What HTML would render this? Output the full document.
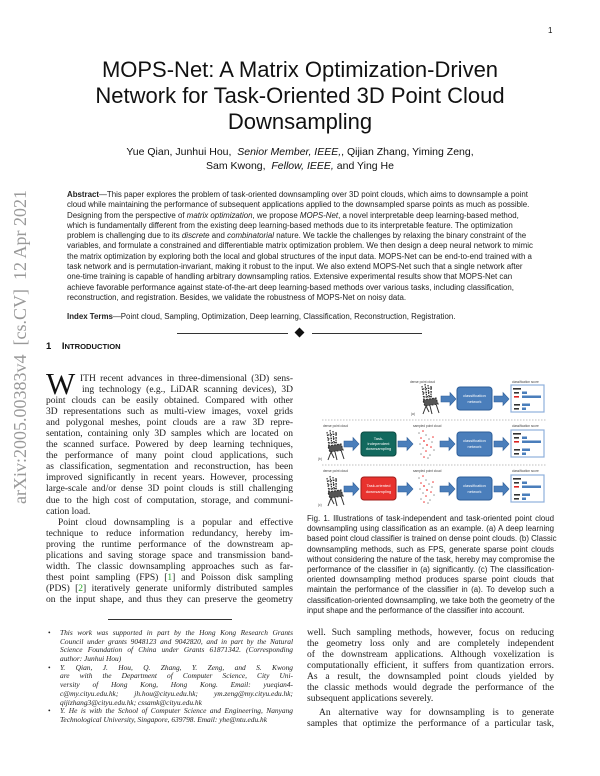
<!DOCTYPE html>
<html><head><meta charset="utf-8"><style>
*{margin:0;padding:0;box-sizing:border-box}
body{width:600px;height:776px;background:#fff;position:relative;overflow:hidden;color:#111}
.a{position:absolute;white-space:nowrap}
.title{left:0;width:600px;text-align:center;font:22px/26px "Liberation Sans",sans-serif;top:57px;color:#111}
.auth{left:0;width:600px;text-align:center;font:10.5px/14px "Liberation Sans",sans-serif;top:145px}
.abs{left:67px;top:190px;font:7.9px/10.3px "Liberation Sans",sans-serif;color:#222}
.col{font:9.5px/11.1px "Liberation Serif",serif;color:#1a1a1a}
.col div,.cap div{width:247px;text-align:justify;text-align-last:justify;white-space:nowrap;height:11.1px}
.col div.l{text-align-last:left}
.cap{font:7.9px/10.2px "Liberation Sans",sans-serif;color:#222}
.cap div{height:10.2px}
.fn{font:italic 7.4px/8.7px "Liberation Serif",serif;color:#222}
.fn div{white-space:nowrap;text-align:justify;text-align-last:justify;width:233px;height:8.7px}
.fn div.l{text-align-last:left}
.side{left:-128px;top:342px;width:300px;height:24px;line-height:24px;text-align:center;font:18px "Liberation Serif",serif;color:#999;transform:rotate(-90deg);transform-origin:150px 12px}
</style></head><body>
<div class="a" style="left:548px;top:26px;font:8px 'Liberation Sans',sans-serif">1</div>
<div class="a title">MOPS-Net: A Matrix Optimization-Driven<br>Network for Task-Oriented 3D Point Cloud<br>Downsampling</div>
<div class="a auth">Yue Qian, Junhui Hou, &nbsp;<i>Senior Member, IEEE,</i>, Qijian Zhang, Yiming Zeng,<br>Sam Kwong, &nbsp;<i>Fellow, IEEE,</i> and Ying He</div>
<div class="a abs"><b>Abstract</b>—This paper explores the problem of task-oriented downsampling over 3D point clouds, which aims to downsample a point<br>cloud while maintaining the performance of subsequent applications applied to the downsampled sparse points as much as possible.<br>Designing from the perspective of <i>matrix optimization</i>, we propose <i>MOPS-Net</i>, a novel interpretable deep learning-based method,<br>which is fundamentally different from the existing deep learning-based methods due to its interpretable feature. The optimization<br>problem is challenging due to its <i>discrete</i> and <i>combinatorial</i> nature. We tackle the challenges by relaxing the binary constraint of the<br>variables, and formulate a constrained and differentiable matrix optimization problem. We then design a deep neural network to mimic<br>the matrix optimization by exploring both the local and global structures of the input data. MOPS-Net can be end-to-end trained with a<br>task network and is permutation-invariant, making it robust to the input. We also extend MOPS-Net such that a single network after<br>one-time training is capable of handling arbitrary downsampling ratios. Extensive experimental results show that MOPS-Net can<br>achieve favorable performance against state-of-the-art deep learning-based methods over various tasks, including classification,<br>reconstruction, and registration. Besides, we validate the robustness of MOPS-Net on noisy data.</div>
<div class="a abs" style="top:312px"><b>Index Terms</b>—Point cloud, Sampling, Optimization, Deep learning, Classification, Reconstruction, Registration.</div>
<div class="a" style="left:177px;top:333px;width:111px;border-top:1px solid #333"></div>
<div class="a" style="left:312px;top:333px;width:110px;border-top:1px solid #333"></div>
<div class="a" style="left:296px;top:329px;width:7px;height:7px;background:#111;transform:rotate(45deg)"></div>
<div class="a" style="left:46px;top:341px;font:bold 9.5px 'Liberation Sans',sans-serif">1&nbsp;&nbsp;&nbsp;&nbsp;I<span style="font-size:7.6px">NTRODUCTION</span></div>
<div class="a side">arXiv:2005.00383v4&nbsp;&nbsp;[cs.CV]&nbsp;&nbsp;12 Apr 2021</div>
<div class="a" style="left:46px;top:369px;font:31px/30px 'Liberation Serif',serif">W</div>
<div class="a col" style="left:46px;top:373.5px">
<div style="padding-left:34px;width:247px">ITH recent advances in three-dimensional (3D) sens-</div>
<div style="padding-left:36px;width:247px">ing technology (e.g., LiDAR scanning devices), 3D</div>
<div>point clouds can be easily obtained. Compared with other</div>
<div>3D representations such as multi-view images, voxel grids</div>
<div>and polygonal meshes, point clouds are a raw 3D repre-</div>
<div>sentation, containing only 3D samples which are located on</div>
<div>the scanned surface. Powered by deep learning techniques,</div>
<div>the performance of many point cloud applications, such</div>
<div>as classification, segmentation and reconstruction, has been</div>
<div>improved significantly in recent years. However, processing</div>
<div>large-scale and/or dense 3D point clouds is still challenging</div>
<div>due to the high cost of computation, storage, and communi-</div>
<div class="l">cation load.</div>
<div style="padding-left:12px">Point cloud downsampling is a popular and effective</div>
<div>technique to reduce information redundancy, hereby im-</div>
<div>proving the runtime performance of the downstream ap-</div>
<div>plications and saving storage space and transmission band-</div>
<div>width. The classic downsampling approaches such as far-</div>
<div>thest point sampling (FPS) [<span style="color:#2a2">1</span>] and Poisson disk sampling</div>
<div>(PDS) [<span style="color:#2a2">2</span>] iteratively generate uniformly distributed samples</div>
<div>on the input shape, and thus they can preserve the geometry</div>
</div>
<div class="a" style="left:108px;top:619px;width:124px;border-top:1px solid #333"></div>
<div class="a fn" style="left:48px;top:629px">
<div class="l" style="position:absolute;left:0;top:0;font-style:normal">•</div>
<div class="l" style="position:absolute;left:0;top:34.8px;font-style:normal">•</div>
<div class="l" style="position:absolute;left:0;top:78.3px;font-style:normal">•</div>
</div>
<div class="a fn" style="left:60px;top:629px">
<div>This work was supported in part by the Hong Kong Research Grants</div>
<div>Council under grants 9048123 and 9042820, and in part by the Natural</div>
<div>Science Foundation of China under Grants 61871342. (Corresponding</div>
<div class="l">author: Junhui Hou)</div>
<div>Y. Qian, J. Hou, Q. Zhang, Y. Zeng, and S. Kwong</div>
<div>are with the Department of Computer Science, City Uni-</div>
<div>versity of Hong Kong, Hong Kong. Email: yueqian4-</div>
<div>c@my.cityu.edu.hk; jh.hou@cityu.edu.hk; ym.zeng@my.cityu.edu.hk;</div>
<div class="l">qijizhang3@cityu.edu.hk; cssamk@cityu.edu.hk</div>
<div>Y. He is with the School of Computer Science and Engineering, Nanyang</div>
<div class="l">Technological University, Singapore, 639798. Email: yhe@ntu.edu.hk</div>
</div>
<svg class="a" style="left:0;top:0" width="600" height="776" viewBox="0 0 600 776" font-family="Liberation Sans, sans-serif">
<defs>
<g id="arr"><polygon points="0,-3 9,-3 9,-6.5 15,0 9,6.5 9,3 0,3" fill="#4a7ebb" stroke="#2f5f9a" stroke-width=".6"/></g>
<g id="chair" fill="none" stroke="#333" stroke-width="1.2">
<path d="M2,2 L4,16 M5,0 L7,15 M8,1 L9,14 M11,2 L11,14 M3,5 L12,4 M3,9 L12,8 M4,13 L12,12" stroke-dasharray="1.5 1"/>
<path d="M3,16 L16,14 L18,20 L5,22 Z" fill="#555" stroke-dasharray="2 1"/>
<path d="M6,22 L3,30 M16,20 L19,29 M10,22 L12,30 M6,22 L9,28" stroke-width="1"/>
</g>
<g id="score">
<rect x="0" y="0" width="33" height="27" fill="#fff" stroke="#8fb0dc" stroke-width="1.2"/>
<rect x="2" y="3" width="8" height="1.6" fill="#333"/>
<rect x="3" y="7" width="5" height="1.6" fill="#333"/><rect x="11" y="6.5" width="5" height="2.5" fill="#4a7ebb"/>
<rect x="3" y="11" width="5" height="1.6" fill="#d22"/><rect x="11" y="10.5" width="19" height="2.5" fill="#4a7ebb"/>
<rect x="3" y="19" width="6" height="1.6" fill="#333"/><rect x="11" y="18.5" width="8" height="2.5" fill="#4a7ebb"/>
<rect x="3" y="23" width="5" height="1.6" fill="#333"/><rect x="11" y="22.5" width="4" height="2.5" fill="#4a7ebb"/>
</g>
<g id="sparse" fill="#999">
<circle cx="2" cy="3" r=".8"/><circle cx="6" cy="1" r=".8" fill="#e33"/><circle cx="9" cy="5" r=".8"/><circle cx="4" cy="8" r=".8" fill="#e33"/><circle cx="12" cy="9" r=".8"/><circle cx="7" cy="11" r=".9" fill="#e33"/><circle cx="15" cy="12" r=".8"/><circle cx="3" cy="14" r=".8"/><circle cx="10" cy="15" r=".9" fill="#e33"/><circle cx="14" cy="17" r=".8" fill="#e33"/><circle cx="6" cy="18" r=".8"/><circle cx="17" cy="20" r=".8"/><circle cx="9" cy="21" r=".8" fill="#e33"/><circle cx="4" cy="24" r=".8"/><circle cx="13" cy="25" r=".8"/><circle cx="16" cy="7" r=".8" fill="#e33"/><circle cx="11" cy="28" r=".8"/><circle cx="7" cy="27" r=".8" fill="#e33"/>
</g>
</defs>
<g font-size="3.2" fill="#444">
<text x="410" y="383">dense point cloud</text><text x="512" y="383">classification score</text>
<text x="323" y="427">dense point cloud</text><text x="413" y="427">sampled point cloud</text><text x="512" y="427">classification score</text>
<text x="323" y="472">dense point cloud</text><text x="413" y="472">sampled point cloud</text><text x="512" y="472">classification score</text>
<text x="411" y="415">(a)</text><text x="318" y="460">(b)</text><text x="318" y="506">(c)</text>
</g>
<use href="#chair" x="420" y="384"/>
<use href="#arr" x="441" y="399"/>
<rect x="457" y="387" width="35" height="23" rx="3" fill="#4a7ebb" stroke="#2f5f9a"/>
<text x="474.5" y="397" font-size="4" fill="#fff" text-anchor="middle">classification</text><text x="474.5" y="403" font-size="4" fill="#fff" text-anchor="middle">network</text>
<use href="#arr" x="494" y="399"/>
<use href="#score" x="511" y="385"/>
<line x1="322" y1="420" x2="546" y2="420" stroke="#aaa" stroke-width=".8" stroke-dasharray="1.5 1.5"/>
<use href="#chair" x="325" y="430"/>
<use href="#arr" x="344" y="444"/>
<rect x="361" y="432" width="35" height="24" rx="3" fill="#12695e" stroke="#0c4a42"/>
<text x="378.5" y="440" font-size="4" fill="#fff" text-anchor="middle">Task-</text><text x="378.5" y="445" font-size="4" fill="#fff" text-anchor="middle">independent</text><text x="378.5" y="450" font-size="4" fill="#fff" text-anchor="middle">downsampling</text>
<use href="#arr" x="398" y="444"/>
<use href="#sparse" x="417" y="430"/>
<use href="#arr" x="440" y="444"/>
<rect x="457" y="432" width="35" height="24" rx="3" fill="#4a7ebb" stroke="#2f5f9a"/>
<text x="474.5" y="442" font-size="4" fill="#fff" text-anchor="middle">classification</text><text x="474.5" y="448" font-size="4" fill="#fff" text-anchor="middle">network</text>
<use href="#arr" x="494" y="444"/>
<use href="#score" x="511" y="430"/>
<line x1="322" y1="465" x2="546" y2="465" stroke="#aaa" stroke-width=".8" stroke-dasharray="1.5 1.5"/>
<use href="#chair" x="325" y="476"/>
<use href="#arr" x="344" y="489"/>
<rect x="361" y="477" width="35" height="23" rx="3" fill="#e8322e" stroke="#a01c1a"/>
<text x="378.5" y="487" font-size="4" fill="#fff" text-anchor="middle">Task-oriented</text><text x="378.5" y="493" font-size="4" fill="#fff" text-anchor="middle">downsampling</text>
<use href="#arr" x="398" y="489"/>
<use href="#sparse" x="417" y="475"/>
<use href="#arr" x="440" y="489"/>
<rect x="457" y="477" width="35" height="23" rx="3" fill="#4a7ebb" stroke="#2f5f9a"/>
<text x="474.5" y="487" font-size="4" fill="#fff" text-anchor="middle">classification</text><text x="474.5" y="493" font-size="4" fill="#fff" text-anchor="middle">network</text>
<use href="#arr" x="494" y="489"/>
<use href="#score" x="511" y="475"/>
</svg>
<div class="a cap" style="left:307px;top:514px">
<div>Fig. 1. Illustrations of task-independent and task-oriented point cloud</div>
<div>downsampling using classification as an example. (a) A deep learning</div>
<div>based point cloud classifier is trained on dense point clouds. (b) Classic</div>
<div>downsampling methods, such as FPS, generate sparse point clouds</div>
<div>without considering the nature of the task, hereby may compromise the</div>
<div>performance of the classifier in (a) significantly. (c) The classification-</div>
<div>oriented downsampling method produces sparse point clouds that</div>
<div>maintain the performance of the classifier in (a). To develop such a</div>
<div>classification-oriented downsampling, we take both the geometry of the</div>
<div style="text-align-last:left">input shape and the performance of the classifier into account.</div>
</div>
<div class="a col" style="left:307px;top:627.5px">
<div>well. Such sampling methods, however, focus on reducing</div>
<div>the geometry loss only and are completely independent</div>
<div>of the downstream applications. Although voxelization is</div>
<div>computationally efficient, it suffers from quantization errors.</div>
<div>As a result, the downsampled point clouds yielded by</div>
<div>the classic methods would degrade the performance of the</div>
<div class="l">subsequent applications severely.</div>
<div style="padding-left:12px;margin-top:3px">An alternative way for downsampling is to generate</div>
<div>samples that optimize the performance of a particular task,</div>
</div>
</body></html>
